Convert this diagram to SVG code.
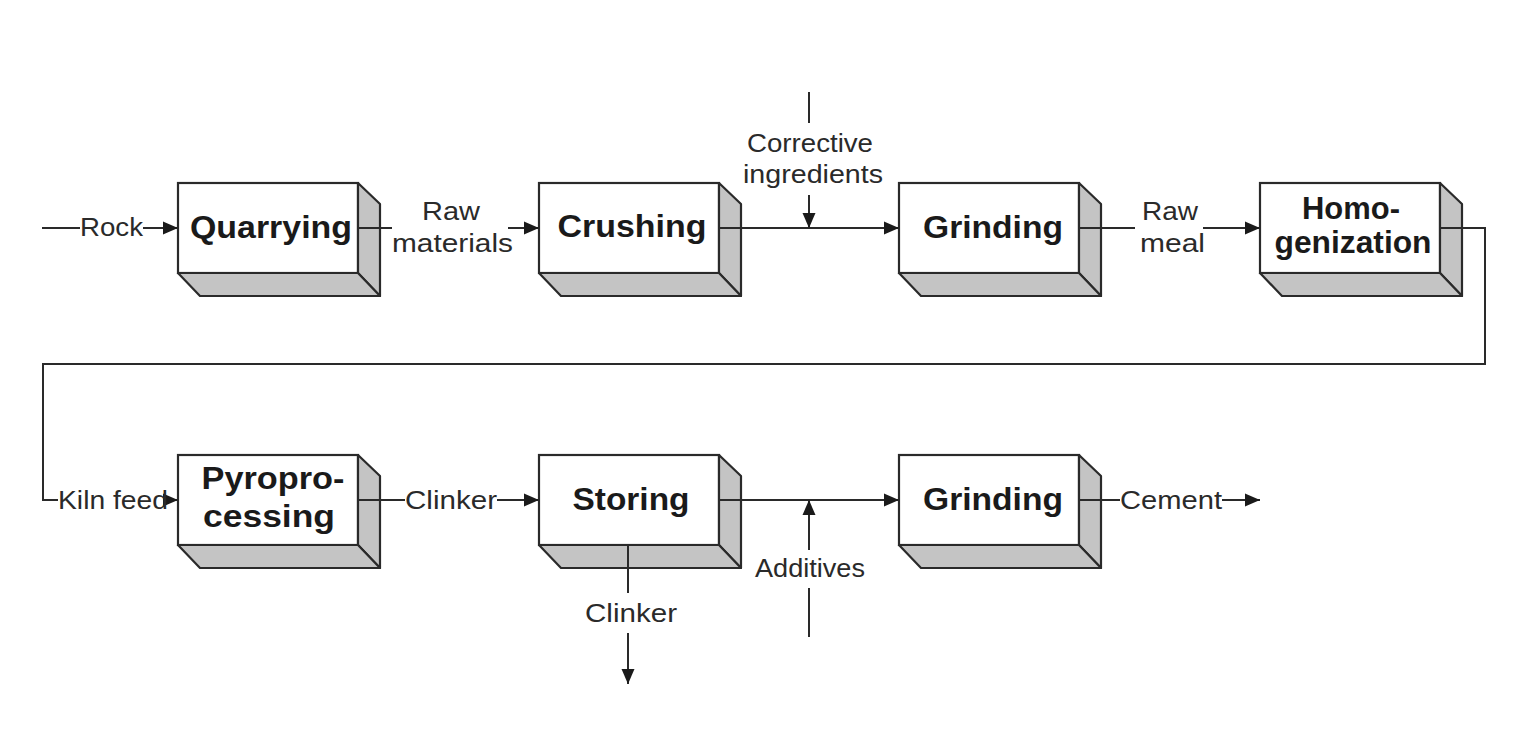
<svg xmlns="http://www.w3.org/2000/svg" width="1519" height="741" viewBox="0 0 1519 741">
<defs>
<style>
.front{fill:#ffffff;stroke:#2a2a2a;stroke-width:2.2}
.face{fill:#c4c4c4;stroke:#2a2a2a;stroke-width:2.2;stroke-linejoin:round}
.lbl{font-family:"Liberation Sans",Arial,sans-serif;font-weight:bold;font-size:31px;fill:#1a1a1a;text-anchor:middle}
.sm{font-family:"Liberation Sans",Arial,sans-serif;font-size:25px;fill:#2a2a2a;text-anchor:middle}
.ln{fill:none;stroke:#2a2a2a;stroke-width:2}
</style>
<marker id="ah" markerWidth="16" markerHeight="14" refX="15" refY="7" orient="auto" markerUnits="userSpaceOnUse">
<path d="M0,0.5 L15,7 L0,13.5 Z" fill="#1a1a1a"/>
</marker>
<g id="box">
<rect class="front" x="0" y="0" width="180" height="90"/>
<polygon class="face" points="180,0 202,21 202,113 180,90"/>
<polygon class="face" points="0,90 180,90 202,113 22,113"/>
</g>
</defs>
<rect width="1519" height="741" fill="#ffffff"/>

<g id="quarrying" transform="translate(178,183)">
<use href="#box"/>
<text class="lbl" x="93" y="55" textLength="162" lengthAdjust="spacingAndGlyphs">Quarrying</text>
</g>
<g id="crushing" transform="translate(539,183)">
<use href="#box"/>
<text class="lbl" x="93" y="54" textLength="149" lengthAdjust="spacingAndGlyphs">Crushing</text>
</g>
<g id="grinding1" transform="translate(899,183)">
<use href="#box"/>
<text class="lbl" x="94" y="55" textLength="140" lengthAdjust="spacingAndGlyphs">Grinding</text>
</g>
<g id="homogenization" transform="translate(1260,183)">
<use href="#box"/>
<text class="lbl" x="91" y="36" textLength="98" lengthAdjust="spacingAndGlyphs">Homo-</text>
<text class="lbl" x="93" y="70" textLength="157" lengthAdjust="spacingAndGlyphs">genization</text>
</g>
<g id="pyroprocessing" transform="translate(178,455)">
<use href="#box"/>
<text class="lbl" x="95" y="34" textLength="143" lengthAdjust="spacingAndGlyphs">Pyropro-</text>
<text class="lbl" x="91" y="72" textLength="132" lengthAdjust="spacingAndGlyphs">cessing</text>
</g>
<g id="storing" transform="translate(539,455)">
<use href="#box"/>
<text class="lbl" x="92" y="55" textLength="117" lengthAdjust="spacingAndGlyphs">Storing</text>
</g>
<g id="grinding2" transform="translate(899,455)">
<use href="#box"/>
<text class="lbl" x="94" y="55" textLength="140" lengthAdjust="spacingAndGlyphs">Grinding</text>
</g>

<g id="connectors">
<line class="ln" x1="42" y1="228" x2="80" y2="228"/>
<line class="ln" x1="143" y1="228" x2="178" y2="228" marker-end="url(#ah)"/>
<line class="ln" x1="358" y1="228" x2="392" y2="228"/>
<line class="ln" x1="508" y1="228" x2="539" y2="228" marker-end="url(#ah)"/>
<line class="ln" x1="720" y1="228" x2="899" y2="228" marker-end="url(#ah)"/>
<line class="ln" x1="809" y1="92" x2="809" y2="123"/>
<line class="ln" x1="809" y1="195" x2="809" y2="228" marker-end="url(#ah)"/>
<line class="ln" x1="1080" y1="228" x2="1135" y2="228"/>
<line class="ln" x1="1203" y1="228" x2="1260" y2="228" marker-end="url(#ah)"/>
<polyline class="ln" points="1440,228 1485,228 1485,364 43,364 43,500 58,500"/>
<line class="ln" x1="166" y1="500" x2="178" y2="500" marker-end="url(#ah)"/>
<line class="ln" x1="358" y1="500" x2="405" y2="500"/>
<line class="ln" x1="497" y1="500" x2="539" y2="500" marker-end="url(#ah)"/>
<line class="ln" x1="720" y1="500" x2="899" y2="500" marker-end="url(#ah)"/>
<line class="ln" x1="809" y1="637" x2="809" y2="588"/>
<line class="ln" x1="809" y1="550" x2="809" y2="500" marker-end="url(#ah)"/>
<line class="ln" x1="628" y1="546" x2="628" y2="593"/>
<line class="ln" x1="628" y1="633" x2="628" y2="684" marker-end="url(#ah)"/>
<line class="ln" x1="1080" y1="500" x2="1120" y2="500"/>
<line class="ln" x1="1222" y1="500" x2="1260" y2="500" marker-end="url(#ah)"/>

<text class="sm" x="111.5" y="236" textLength="63" lengthAdjust="spacingAndGlyphs">Rock</text>
<text class="sm" x="451" y="220" textLength="58" lengthAdjust="spacingAndGlyphs">Raw</text>
<text class="sm" x="452.5" y="252" textLength="121" lengthAdjust="spacingAndGlyphs">materials</text>
<text class="sm" x="810" y="152" textLength="126" lengthAdjust="spacingAndGlyphs">Corrective</text>
<text class="sm" x="813" y="183" textLength="140" lengthAdjust="spacingAndGlyphs">ingredients</text>
<text class="sm" x="1170" y="220" textLength="56" lengthAdjust="spacingAndGlyphs">Raw</text>
<text class="sm" x="1172.5" y="252" textLength="65" lengthAdjust="spacingAndGlyphs">meal</text>
<text class="sm" x="113" y="509" textLength="110" lengthAdjust="spacingAndGlyphs">Kiln feed</text>
<text class="sm" x="451" y="509" textLength="92" lengthAdjust="spacingAndGlyphs">Clinker</text>
<text class="sm" x="810" y="577" textLength="110" lengthAdjust="spacingAndGlyphs">Additives</text>
<text class="sm" x="631" y="622" textLength="92" lengthAdjust="spacingAndGlyphs">Clinker</text>
<text class="sm" x="1171" y="509" textLength="102" lengthAdjust="spacingAndGlyphs">Cement</text>
</g>
</svg>
